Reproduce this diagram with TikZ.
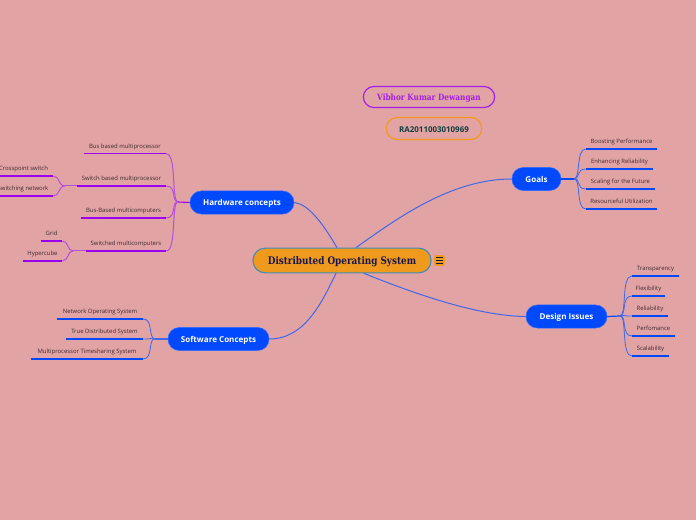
\documentclass[tikz,border=0pt]{standalone}
\usepackage{fontspec}
\setmainfont{Open Sans}
\newfontfamily\titlefont{DejaVu Serif}[FakeStretch=0.85]
\usetikzlibrary{calc}
\definecolor{bgc}{HTML}{E1A3A3}
\definecolor{blu}{HTML}{0049FF}
\definecolor{blul}{HTML}{3F68EA}
\definecolor{pur}{HTML}{9A00F0}
\definecolor{purl}{HTML}{B550DC}
\definecolor{org}{HTML}{EF9A1C}
\definecolor{edgeb}{HTML}{3C8DBB}
\definecolor{navy}{HTML}{16164E}
\definecolor{viol}{HTML}{A41FE8}
\definecolor{rac}{HTML}{F5981E}
\definecolor{rat}{HTML}{0F3F40}
\definecolor{leaft}{HTML}{3E2A30}
\tikzset{
  x=0.75pt,y=-0.75pt,
  topic/.style={rounded corners=8.5pt,fill=blu,draw=blu!80!white,line width=.4pt,text=white,font=\fontsize{6.05pt}{7pt}\selectfont\bfseries,inner sep=0pt,align=center,text height=6.2pt,text depth=1.4pt},
  pill/.style={rounded corners=8pt,fill=none,line width=.9pt,inner sep=0pt,align=center},
  leaf/.style={inner sep=0pt,font=\fontsize{4.45pt}{6pt}\selectfont,text=leaft,anchor=south,minimum height=7pt,text depth=3.7pt,text height=3.4pt},
  blink/.style={blul,line width=.75pt},
  plink/.style={purl,line width=.75pt},
  bline/.style={blu,line width=.95pt},
  pline/.style={pur,line width=.95pt},
}
% #1 name, #2 x1, #3 x2, #4 y, #5 text, #6 line style
\newcommand{\leafnode}[6]{%
  \node[leaf,minimum width=(#3-#2)*0.75pt] (#1) at ({(#2+#3)/2},#4) {#5};
  \draw[#6] (#1.south west) -- (#1.south east);}
\begin{document}
\begin{tikzpicture}
\fill[bgc] (0,0) rectangle (696,520);
\useasboundingbox (0,0) rectangle (696,520);

% main nodes
\node[rounded corners=9pt,fill=org,draw=edgeb,line width=.8pt,minimum width=133.5pt,minimum height=18.5pt,inner sep=0pt,text=navy,font=\titlefont\fontsize{7.8pt}{9pt}\selectfont\bfseries,text height=7.4pt,text depth=1.7pt] (center) at (342,260.5) {Distributed Operating System};
\node[topic,minimum width=78pt,minimum height=17.3pt] (hw) at (242,202.5) {Hardware concepts};
\node[topic,minimum width=36.8pt,minimum height=17.3pt] (goals) at (536.5,179) {Goals};
\node[topic,minimum width=60.8pt,minimum height=17.3pt] (design) at (566.5,316.5) {Design Issues};
\node[topic,minimum width=75.8pt,minimum height=17.3pt] (soft) at (218.5,339) {Software Concepts};
\node[pill,draw=viol,text=viol,minimum width=98.5pt,minimum height=15.8pt,font=\titlefont\fontsize{6.5pt}{7pt}\selectfont\bfseries,text height=6.3pt,text depth=1.4pt] (author) at (429,97) {Vibhor Kumar Dewangan};
\node[pill,draw=rac,text=rat,minimum width=71.5pt,minimum height=16.5pt,font=\fontsize{5.95pt}{7pt}\selectfont\bfseries,text height=5.8pt,text depth=0pt] (reg) at (434,128.5) {RA2011003010969};

% menu icon
\node[fill=org,rounded corners=1.2pt,minimum size=8pt,inner sep=0pt] (menu) at (439.5,260.5) {};
\draw[navy,line width=.55pt] (436,257.5) -- (443,257.5) (436,260.5) -- (443,260.5) (436,263.5) -- (443,263.5);

% main links
\coordinate (cN1) at ($(center.north)+(-5,0)$);
\coordinate (cN2) at ($(center.north)+(14,0)$);
\coordinate (cS1) at ($(center.south)+(-6,0)$);
\coordinate (cS2) at ($(center.south)+(22,0)$);
\draw[blink] (hw.east) .. controls (308,204) and (322,222) .. (cN1);
\draw[blink] (cN2) .. controls (395,220) and (450,179) .. (goals.west);
\draw[blink] (cS1) .. controls (322,302) and (305,339) .. (soft.east);
\draw[blink] (cS2) .. controls (420,296) and (480,316) .. (design.west);

% goals
\leafnode{g1}{586}{657}{149}{Boosting Performance}{bline}
\leafnode{g2}{586}{653}{169}{Enhancing Reliability}{bline}
\leafnode{g3}{586}{655}{189}{Scaling for the Future}{bline}
\leafnode{g4}{586}{657}{209}{Resourceful Utilization}{bline}
\coordinate (gj) at (574,179);
\draw[blu,line width=.9pt] (goals.east) -- (gj);
\foreach \n in {g1,g2,g3,g4}{\draw[blink,line width=.6pt] (gj) .. controls (581,178) and ([xshift=-7.5pt]\n.south west) .. (\n.south west);}

% design
\leafnode{d1}{632}{679}{276}{Transparency}{bline}
\leafnode{d2}{632}{665}{296}{Flexibility}{bline}
\leafnode{d3}{632}{668}{316}{Reliability}{bline}
\leafnode{d4}{632}{675}{336}{Perfomance}{bline}
\leafnode{d5}{632}{669}{356}{Scalability}{bline}
\coordinate (dj) at (620,316);
\draw[blu,line width=.9pt] (design.east) -- (dj);
\foreach \n in {d1,d2,d3,d4,d5}{\draw[blink,line width=.6pt] (dj) .. controls (627,315) and ([xshift=-8pt]\n.south west) .. (\n.south west);}

% software
\leafnode{s1}{57}{143}{319}{Network Operating System}{bline}
\leafnode{s2}{66}{143}{339}{True Distributed System}{bline}
\leafnode{s3}{31}{143}{359}{Multiprocessor Timesharing System}{bline}
\coordinate (sj) at (155,339);
\draw[blink,line width=.9pt] (soft.west) -- (sj);
\foreach \n in {s1,s2,s3}{\draw[blink,line width=.6pt] (sj) .. controls (148,338) and ([xshift=7.5pt]\n.south east) .. (\n.south east);}

% hardware
\leafnode{h1}{84}{166}{153.7}{Bus based multiprocessor}{pline}
\leafnode{h2}{77}{166}{186}{Switch based multiprocessor}{pline}
\leafnode{h3}{81}{166}{218}{Bus-Based multicomputers}{pline}
\leafnode{h4}{86}{166}{251}{Switched multicomputers}{pline}
\coordinate (hj) at (178,202);
\draw[pline,line width=.8pt] (hw.west) -- (hj);
\foreach \n in {h1,h2,h3,h4}{\draw[plink] (hj) .. controls (171,201) and ([xshift=8pt]\n.south east) .. (\n.south east);}

\leafnode{h21}{-6}{53}{176}{Crosspoint switch}{pline}
\leafnode{h22}{-7}{53}{196}{Switching network}{pline}
\coordinate (h2j) at (65,186);
\draw[plink] (h2.south west) -- (h2j);
\foreach \n in {h21,h22}{\draw[plink] (h2j) .. controls (58,186) and ([xshift=5pt]\n.south east) .. (\n.south east);}

\leafnode{h41}{41}{62}{241}{Grid}{pline}
\leafnode{h42}{23}{62}{261}{Hypercube}{pline}
\coordinate (h4j) at (73,251);
\draw[plink] (h4.south west) -- (h4j);
\foreach \n in {h41,h42}{\draw[plink] (h4j) .. controls (67,251) and ([xshift=5pt]\n.south east) .. (\n.south east);}
\end{tikzpicture}
\end{document}
